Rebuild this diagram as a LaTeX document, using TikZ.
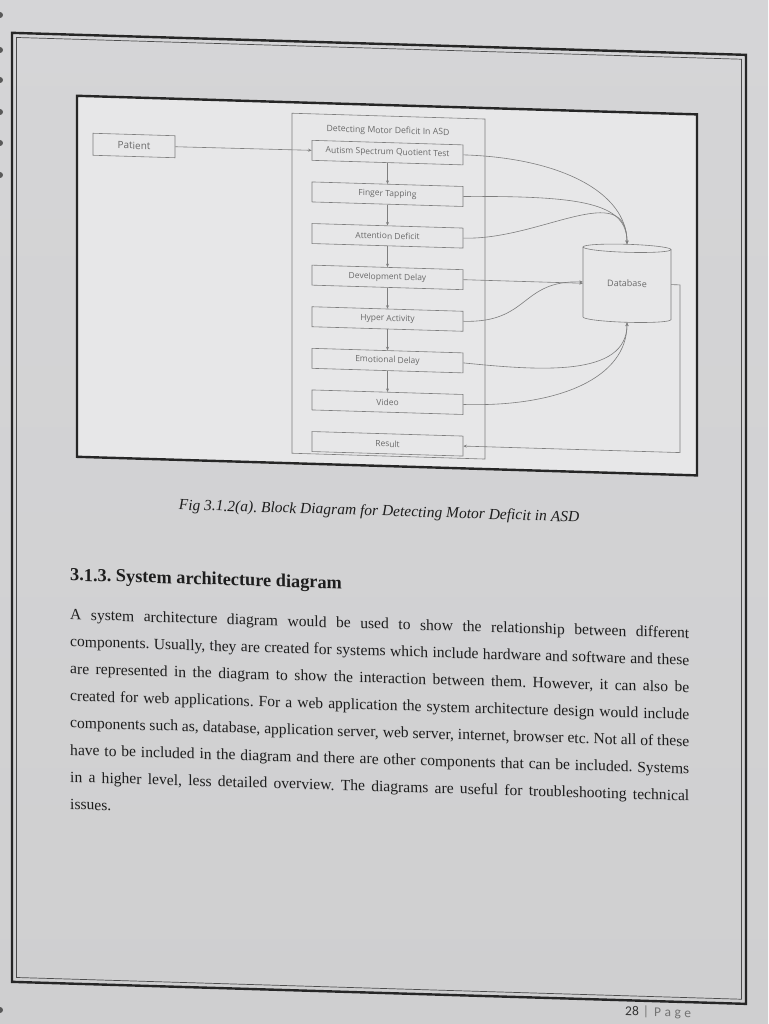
\documentclass[tikz,border=0pt]{standalone}
\usepackage{fontspec}
\setmainfont{Liberation Serif}
\newfontfamily\diafont{Open Sans}
\newfontfamily\pgfont{Carlito}
\usetikzlibrary{arrows.meta}
\definecolor{papertop}{HTML}{D5D5D7}
\definecolor{papermid}{HTML}{E5E5E6}
\definecolor{paperbot}{HTML}{CFCFD0}
\definecolor{diafill}{HTML}{E7E7E8}
\definecolor{dline}{HTML}{7E7E7E}
\definecolor{dtext}{HTML}{6A6A6A}
\definecolor{ink}{HTML}{1E1E1E}
\tikzset{
  stepbox/.style={draw=dline, line width=0.6pt, minimum width=151pt, minimum height=20pt,
    inner sep=0pt, text=dtext, font=\diafont\fontsize{8.5}{10}\selectfont},
  conn/.style={draw=dline, line width=0.6pt},
  arr/.style={conn, -{Stealth[length=3.5pt,width=3pt]}},
  hole/.style={fill=black!65},
}
\frenchspacing
\begin{document}
\begin{tikzpicture}[x=1pt,y=-1pt]
\useasboundingbox (0,0) rectangle (768,1024);
\shade[top color=papertop, middle color=papermid, bottom color=paperbot] (0,0) rectangle (768,1024);
% binding holes
\foreach \yy in {15,50,80,112,143,175,1010} \fill[hole] (0,\yy) circle (3);
\begin{scope}[cm={1,-0.03,0,1,(0pt,11.52pt)}, transform shape]
% page border
\draw[line width=2.4pt, black!85] (12,44) rectangle (746,993);
\draw[line width=0.7pt, black!70] (16.5,48.5) rectangle (741.5,988.5);
% diagram frame
\draw[line width=2.4pt, black!85, fill=diafill] (77,105) rectangle (697,466);
% container
\draw[dline, line width=0.6pt] (292,116) rectangle (485,456);
\node[text=dtext, font=\diafont\fontsize{8.7}{10}\selectfont] (title) at (388,131) {Detecting Motor Deficit In ASD};
% steps
\node[stepbox] (asq) at (387.5,152.5) {Autism Spectrum Quotient Test};
\node[stepbox] (fin) at (387.5,194.1) {Finger Tapping};
\node[stepbox] (att) at (387.5,235.7) {Attention Deficit};
\node[stepbox] (dev) at (387.5,277.3) {Development Delay};
\node[stepbox] (hyp) at (387.5,318.9) {Hyper Activity};
\node[stepbox] (emo) at (387.5,360.5) {Emotional Delay};
\node[stepbox] (vid) at (387.5,402.1) {Video};
\node[stepbox] (res) at (387.5,443.7) {Result};
\node[stepbox, minimum width=82pt, minimum height=22pt, font=\diafont\fontsize{10}{12}\selectfont] (pat) at (134,153) {Patient};
% database cylinder (outline first, label on top)
\draw[conn, fill=diafill] (583,241) -- (583,311) arc[start angle=180, end angle=0, x radius=44, y radius=4] -- (671,241);
\draw[conn] (627,241) ellipse [x radius=44, y radius=4];
\node[minimum width=88pt, minimum height=78pt, inner sep=0pt, text=dtext, font=\diafont\fontsize{9}{11}\selectfont] (db) at (627,276) {Database};
% connectors
\draw[arr] (pat.east) -- (asq.west);
\draw[arr] (asq) -- (fin);
\draw[arr] (fin) -- (att);
\draw[arr] (att) -- (dev);
\draw[arr] (dev) -- (hyp);
\draw[arr] (hyp) -- (emo);
\draw[arr] (emo) -- (vid);
\draw[arr] (asq.east) .. controls (560,152.5) and (627,185) .. (db.north);
\draw[arr] (fin.east) .. controls (580,190) and (627,195) .. (db.north);
\draw[arr] (att.east) .. controls (540,236) and (627,170) .. (db.north);
\draw[arr] (dev.east) -- (db.west |- dev.east);
\draw[arr] (hyp.east) .. controls (530,318.9) and (520,276) .. (db.west);
\draw[arr] (emo.east) .. controls (540,366) and (627,370) .. (db.south);
\draw[arr] (vid.east) .. controls (560,402) and (627,370) .. (db.south);
\coordinate (fb) at (680,276);
\draw[arr] (db.east) -- (fb) |- (res.east);
% caption
\node[anchor=base, text=ink, font=\itshape\fontsize{15.5}{18}\selectfont, inner sep=0pt] (cap) at (379,516) {Fig 3.1.2(a). Block Diagram for Detecting Motor Deficit in ASD};
% heading
\node[anchor=base west, text=ink, font=\bfseries\fontsize{18.3}{21}\selectfont, inner sep=0pt] (head) at (70,590) {3.1.3. System architecture diagram};
% paragraph
\node[anchor=base west, text=ink, inner sep=0pt, font=\fontsize{15.6}{27.1}\selectfont] (para) at (70,629) {\parbox[t]{619pt}{\fontsize{15.6}{27.1}\selectfont
A system architecture diagram would be used to show the relationship between different\linebreak
components. Usually, they are created for systems which include hardware and software and these\linebreak
are represented in the diagram to show the interaction between them. However, it can also be\linebreak
created for web applications. For a web application the system architecture design would include\linebreak
components such as, database, application server, web server, internet, browser etc. Not all of these\linebreak
have to be included in the diagram and there are other components that can be included. Systems\linebreak
in a higher level, less detailed overview. The diagrams are useful for troubleshooting technical\linebreak
issues.}};
% page number
\node[anchor=base west, inner sep=0pt, font=\pgfont\fontsize{13.5}{15}\selectfont] (pnum) at (625,1008) {\textcolor{black!80}{28}\kern4pt\textcolor{black!55}{|}\kern5pt\textcolor{black!55}{P\kern3.5pt a\kern3.5pt g\kern3.5pt e}};
\end{scope}
\end{tikzpicture}
\end{document}
